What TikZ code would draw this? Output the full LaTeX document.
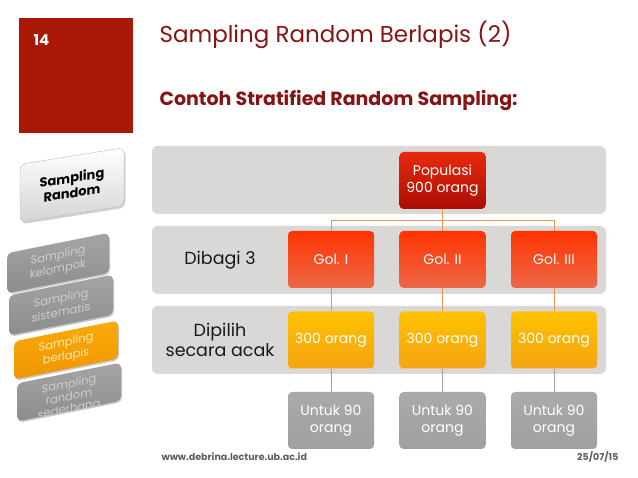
\documentclass[tikz,border=0pt]{standalone}
\usepackage{fontspec}
\setmainfont{Poppins}
\usetikzlibrary{shadows}
\definecolor{hdr}{RGB}{168,24,4}
\definecolor{ttl}{RGB}{135,20,20}
\definecolor{bandc}{RGB}{218,215,215}
\definecolor{connc}{RGB}{236,150,80}
\definecolor{connb}{RGB}{160,160,160}
\definecolor{foot}{RGB}{95,95,95}
\tikzset{
  band/.style={fill=bandc, rounded corners=6pt},
  cbox/.style={minimum width=86pt, minimum height=57pt, rounded corners=4pt,
    text=white, align=center, inner sep=1pt, font=\fontsize{14}{17}\selectfont},
  popbox/.style={cbox, top color={rgb,255:red,232;green,42;blue,14}, bottom color={rgb,255:red,170;green,14;blue,4}},
  golbox/.style={cbox, top color={rgb,255:red,255;green,52;blue,0}, bottom color={rgb,255:red,236;green,104;blue,72}},
  ambbox/.style={cbox, top color={rgb,255:red,255;green,194;blue,0}, bottom color={rgb,255:red,244;green,164;blue,20}},
  grybox/.style={cbox, top color={rgb,255:red,170;green,170;blue,170}, bottom color={rgb,255:red,160;green,160;blue,160}},
  conn/.style={draw=connc, line width=0.9pt},
  connlow/.style={draw=connb, line width=0.9pt},
  rowlabel/.style={align=center, text={rgb,255:red,25;green,25;blue,25}, font=\fontsize{17.5}{20}\selectfont},
  btntext/.style={align=center, transform shape, font=\fontsize{11.5}{14}\selectfont, inner sep=0pt},
}
\begin{document}
\begin{tikzpicture}[x=1pt,y=-1pt]
\useasboundingbox (0,0) rectangle (638,478);
\fill[white] (0,0) rectangle (638,478);
% header
\fill[hdr] (19,18) rectangle (133,133);
\node[anchor=west, text=white, font=\bfseries\fontsize{15}{17}\selectfont] (num) at (30,40) {14};
\node[anchor=west, text=ttl, font=\fontsize{23}{27}\selectfont] (title) at (156,35) {Sampling Random Berlapis (2)};
\node[anchor=west, text=ttl, font=\bfseries\fontsize{19}{22}\selectfont] (sub) at (156,101) {Contoh Stratified Random Sampling:};
% bands
\path[band] (152,146) rectangle (606,214);
\path[band] (152,226) rectangle (606,294);
\path[band] (152,306) rectangle (606,374);
% row labels
\node[rowlabel] (lab1) at (220,260) {Dibagi 3};
\node[rowlabel] (lab2) at (220,340) {Dipilih\\secara acak};
% boxes
\node[popbox] (pop) at (442.5,180.5) {Populasi\\900 orang};
\node[golbox] (g1) at (331,259.5) {Gol. I};
\node[golbox] (g2) at (442.5,259.5) {Gol. II};
\node[golbox] (g3) at (554,259.5) {Gol. III};
\node[ambbox] (a1) at (331,340) {300 orang};
\node[ambbox] (a2) at (442.5,340) {300 orang};
\node[ambbox] (a3) at (554,340) {300 orang};
\node[grybox] (u1) at (331,420.5) {Untuk 90\\orang};
\node[grybox] (u2) at (442.5,420.5) {Untuk 90\\orang};
\node[grybox] (u3) at (554,420.5) {Untuk 90\\orang};
% connectors
\draw[conn] (pop.south) -- (g2.north);
\draw[conn] (pop.south) ++(0,11) -| (g1.north);
\draw[conn] (pop.south) ++(0,11) -| (g3.north);
\draw[conn] (g1.south) -- (a1.north);
\draw[conn] (g2.south) -- (a2.north);
\draw[conn] (g3.south) -- (a3.north);
\draw[connlow] (a1.south) -- (u1.north);
\draw[connlow] (a2.south) -- (u2.north);
\draw[connlow] (a3.south) -- (u3.north);
% footer
\node[anchor=west, text=foot, font=\bfseries\fontsize{9.5}{11}\selectfont] (url) at (158,457) {www.debrina.lecture.ub.ac.id};
\node[anchor=east, text=foot, font=\bfseries\fontsize{9.5}{11}\selectfont] (date) at (622,457) {25/07/15};
% left buttons
\begin{scope}[shift={(72,185)}, yslant=0.16]
  \path[rounded corners=6pt, top color=white, bottom color={rgb,255:red,212;green,212;blue,212}, draw={rgb,255:red,190;green,190;blue,190},
    drop shadow={shadow xshift=1.5pt, shadow yshift=-2pt, opacity=0.35}] (-52,-29) rectangle (52,29);
  \node[btntext, font=\bfseries\fontsize{13}{15}\selectfont] (bmain) at (0,0) {Sampling\\Random};
\end{scope}
\begin{scope}[shift={(58,263)}, yslant=0.2]
  \path[rounded corners=5pt, top color={rgb,255:red,165;green,165;blue,165}, bottom color={rgb,255:red,140;green,140;blue,140},
    drop shadow={shadow xshift=1pt, shadow yshift=-1.5pt, opacity=0.45}] (-51,-20) rectangle (51,20);
  \node[btntext, text={rgb,255:red,205;green,205;blue,205}] (b1) at (0,0) {Sampling\\kelompok};
\end{scope}
\begin{scope}[shift={(61,305)}, yslant=0.2]
  \path[rounded corners=5pt, top color={rgb,255:red,165;green,165;blue,165}, bottom color={rgb,255:red,140;green,140;blue,140},
    drop shadow={shadow xshift=1pt, shadow yshift=-1.5pt, opacity=0.45}] (-52,-20) rectangle (52,20);
  \node[btntext, text={rgb,255:red,205;green,205;blue,205}] (b2) at (0,0) {Sampling\\sistematis};
\end{scope}
\begin{scope}[shift={(66,350)}, yslant=0.2]
  \path[rounded corners=5pt, top color={rgb,255:red,250;green,170;blue,10}, bottom color={rgb,255:red,238;green,150;blue,0},
    drop shadow={shadow xshift=1pt, shadow yshift=-1.5pt, opacity=0.45}] (-52,-19) rectangle (52,19);
  \node[btntext, text={rgb,255:red,255;green,232;blue,175}] (b3) at (0,0) {Sampling\\berlapis};
\end{scope}
\begin{scope}[shift={(69,392)}, yslant=0.2]
  \path[rounded corners=5pt, top color={rgb,255:red,165;green,165;blue,165}, bottom color={rgb,255:red,140;green,140;blue,140},
    drop shadow={shadow xshift=1pt, shadow yshift=-1.5pt, opacity=0.45}] (-52,-19) rectangle (52,19);
  \begin{scope}
    \clip[rounded corners=5pt] (-52,-19) rectangle (52,19);
    \node[btntext, text={rgb,255:red,205;green,205;blue,205}, font=\fontsize{11.5}{12.5}\selectfont] (b4) at (0,4) {Sampling\\random\\sederhana};
  \end{scope}
\end{scope}
\end{tikzpicture}
\end{document}
